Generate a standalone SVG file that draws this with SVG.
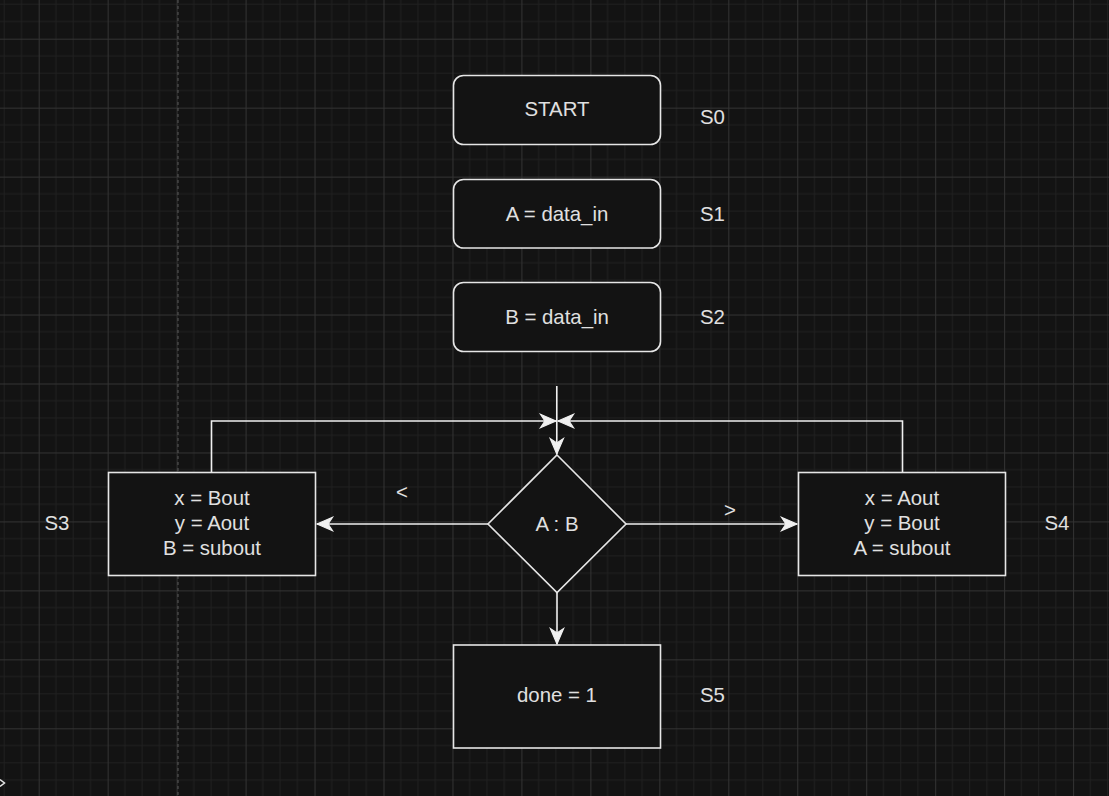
<svg xmlns="http://www.w3.org/2000/svg" width="1109" height="796" viewBox="0 0 1109 796">
<style>
.box{fill:#131313;stroke:#e6e6e6;stroke-width:1.6}
.t{font-family:"Liberation Sans",Arial,sans-serif;font-size:20.4px;fill:#e0e0e0;text-anchor:middle}
.c{fill:none;stroke:#f0f0f0;stroke-width:1.6}
</style>
<defs>
<pattern id="grid" patternUnits="userSpaceOnUse" x="38.7" y="38.7" width="68.96" height="68.96">
<rect width="68.96" height="68.96" fill="#131313"/>
<path d="M17.24,0V68.96M34.48,0V68.96M51.72,0V68.96M0,17.24H68.96M0,34.48H68.96M0,51.72H68.96" stroke="#202020" stroke-width="1" fill="none"/>
<path d="M0.5,0V68.96M0,0.5H68.96" stroke="#333333" stroke-width="1" fill="none"/>
</pattern>
<marker id="arr" markerUnits="userSpaceOnUse" markerWidth="20" markerHeight="20" viewBox="-16 -8 18 16" refX="0" refY="0" orient="auto">
<path d="M0,0 L-14,-6 L-10,0 L-14,6 Z" fill="#f0f0f0" stroke="#f0f0f0" stroke-width="1"/>
</marker>
</defs>
<rect width="1109" height="796" fill="url(#grid)"/>
<line x1="178" y1="0" x2="178" y2="796" stroke="#5a5a5a" stroke-width="1" stroke-dasharray="3 3"/>
<g id="connectors">
<path class="c" d="M556.8,386 L556.8,454" marker-end="url(#arr)"/>
<path class="c" d="M211.5,472 L211.5,421 L556,421" marker-end="url(#arr)"/>
<path class="c" d="M902.5,472 L902.5,421 L558,421" marker-end="url(#arr)"/>
<path class="c" d="M488,524 L317,524" marker-end="url(#arr)"/>
<path class="c" d="M626,524 L797,524" marker-end="url(#arr)"/>
<path class="c" d="M557,592 L557,644" marker-end="url(#arr)"/>
<text class="t" x="402" y="499">&lt;</text>
<text class="t" x="730" y="516.5">&gt;</text>
</g>
<g id="s0">
<rect class="box" x="453.5" y="75.5" width="207" height="69" rx="10"/>
<text class="t" x="557" y="116">START</text>
<text class="t" x="712.5" y="124">S0</text>
</g>
<g id="s1">
<rect class="box" x="453.5" y="179.5" width="207" height="68.5" rx="10"/>
<text class="t" x="557" y="220.5">A = data_in</text>
<text class="t" x="712.5" y="220.5">S1</text>
</g>
<g id="s2">
<rect class="box" x="453.5" y="282.5" width="207" height="69" rx="10"/>
<text class="t" x="557" y="323.5">B = data_in</text>
<text class="t" x="712.5" y="323.5">S2</text>
</g>
<g id="s3">
<rect class="box" x="108.5" y="472.5" width="207" height="103"/>
<text class="t" x="212" y="505">x = Bout</text>
<text class="t" x="212" y="530">y = Aout</text>
<text class="t" x="212" y="555">B = subout</text>
<text class="t" x="57" y="530">S3</text>
</g>
<g id="decision">
<path class="box" d="M557,455 L626,524 L557,592.5 L488,524 Z"/>
<text class="t" x="557" y="531">A : B</text>
</g>
<g id="s4">
<rect class="box" x="798.5" y="472.5" width="207" height="103"/>
<text class="t" x="902" y="505">x = Aout</text>
<text class="t" x="902" y="530">y = Bout</text>
<text class="t" x="902" y="555">A = subout</text>
<text class="t" x="1057" y="530">S4</text>
</g>
<g id="s5">
<rect class="box" x="453.5" y="645" width="207" height="103"/>
<text class="t" x="557" y="702">done = 1</text>
<text class="t" x="712.5" y="702">S5</text>
</g>
<path d="M0,779.5 L4.5,783 L0,786.5" fill="none" stroke="#e6e6e6" stroke-width="1.5"/>
</svg>
